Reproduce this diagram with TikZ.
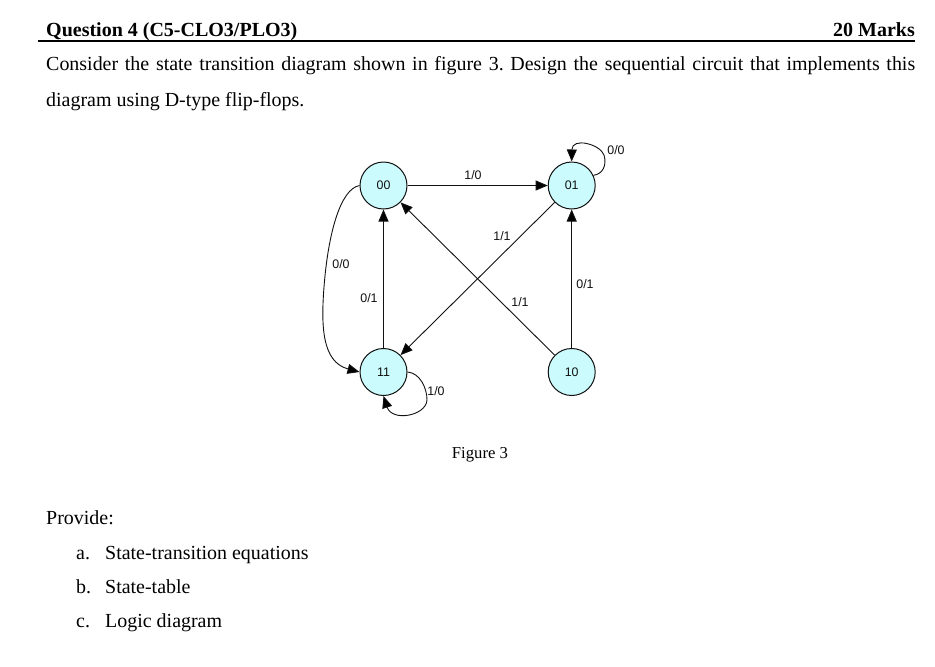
\documentclass[tikz,border=0pt]{standalone}
\usepackage{fontspec}
\setmainfont{Liberation Serif}
\newfontfamily\labelfont{Liberation Sans}
\usetikzlibrary{arrows.meta}
\definecolor{statefill}{HTML}{CCFBFD}
\definecolor{ink}{HTML}{111111}
\tikzset{
  x=1pt,y=-1pt,
  statenode/.style={circle,draw=ink,line width=1pt,fill=statefill,minimum size=47pt,inner sep=0pt,font=\labelfont\fontsize{12.4}{14}\selectfont,text=ink},
  edgelabel/.style={inner sep=0pt,font=\labelfont\fontsize{12.4}{14}\selectfont,text=ink},
  trans/.style={draw=ink,line width=0.9pt,-{Triangle[length=12pt,width=10pt,fill=black]}},
  doctext/.style={anchor=base west,inner sep=0pt,font=\fontsize{19.95}{24}\selectfont,text=black},
  boldtext/.style={inner sep=0pt,font=\bfseries\fontsize{20}{24}\selectfont,text=black},
  rulebar/.style={draw=black,line width=2.6pt}
}
\begin{document}
\frenchspacing
\begin{tikzpicture}
\useasboundingbox (0,0) rectangle (935,667);
\fill[white] (0,0) rectangle (935,667);
% heading
\node[boldtext,anchor=base west] (q) at (46,36) {Question 4 (C5-CLO3/PLO3)};
\node[boldtext,anchor=base east] (m) at (915,36) {20 Marks};
\coordinate (ruleL) at (38,41);
\coordinate (ruleR) at (915,41);
\draw[rulebar] (ruleL) -- (ruleR);
% paragraph
\node[doctext] (p1) at (46,70) {\makebox[869pt][s]{Consider the state transition diagram shown in figure 3. Design the sequential circuit that implements this}};
\node[doctext] (p2) at (46,106) {diagram using D-type flip-flops.};
% states
\node[statenode] (s00) at (383.5,185.5) {00};
\node[statenode] (s01) at (571.7,185.5) {01};
\node[statenode] (s11) at (383.5,372) {11};
\node[statenode] (s10) at (571.7,372) {10};
% transitions
\draw[trans] (s00) -- (s01);
\draw[trans] (s11) -- (s00);
\draw[trans] (s10) -- (s01);
\draw[trans] (s10) -- (s00);
\draw[trans] (s01) -- (s11);
\draw[trans] (s00.west) .. controls (340,189) and (328,235) .. (324,287) .. controls (321,326) and (322,362) .. (s11.west);
\draw[trans] (s01.25) .. controls (603,174) and (607,165) .. (604,155) .. controls (600,144) and (572,137) .. (s01.north);
\draw[trans] (s11.east) .. controls (420,373) and (427,388) .. (427,400) .. controls (426,416) and (392,422) .. (s11.south);
% labels
\node[edgelabel] (l1) at (473,175) {1/0};
\node[edgelabel] (l2) at (502,236) {1/1};
\node[edgelabel] (l3) at (341,264) {0/0};
\node[edgelabel] (l4) at (369,298) {0/1};
\node[edgelabel] (l5) at (520,302) {1/1};
\node[edgelabel] (l6) at (585,284) {0/1};
\node[edgelabel] (l7) at (436,391) {1/0};
\node[edgelabel] (l8) at (616,150) {0/0};
% caption
\node[doctext,anchor=base,font=\fontsize{16.7}{20}\selectfont] (fig) at (480,458) {Figure 3};
% list
\node[doctext] (prov) at (46,524) {Provide:};
\node[doctext] (la) at (76,559) {a.};
\node[doctext] (ta) at (105,559) {State-transition equations};
\node[doctext] (lb) at (76,593) {b.};
\node[doctext] (tb) at (105,593) {State-table};
\node[doctext] (lc) at (76,627) {c.};
\node[doctext] (tc) at (105,627) {Logic diagram};
\end{tikzpicture}
\end{document}
